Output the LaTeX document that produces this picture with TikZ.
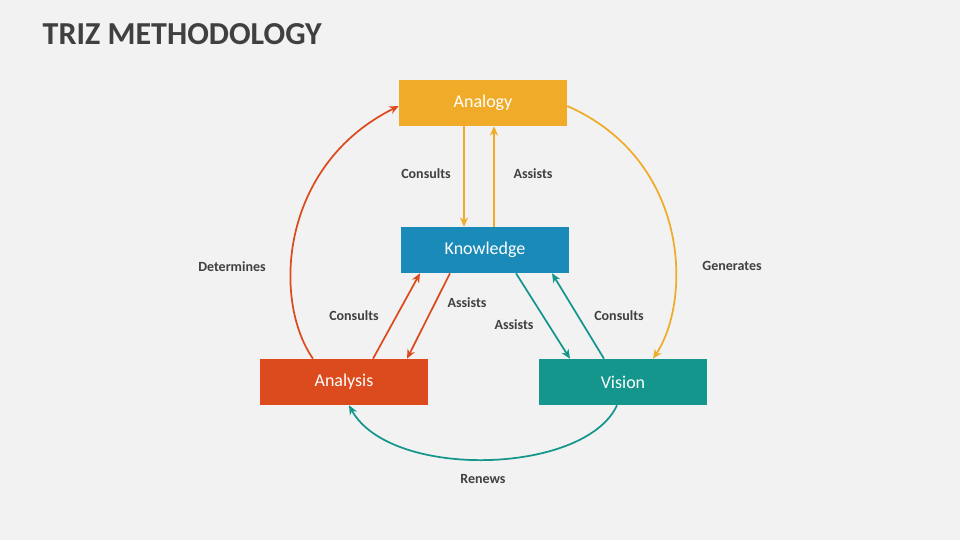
\documentclass[tikz,border=0pt]{standalone}
\usepackage{fontspec}
\setmainfont{Carlito}
\usetikzlibrary{arrows.meta}
\definecolor{bg}{HTML}{F2F2F2}
\definecolor{cana}{HTML}{F0AC28}
\definecolor{ckno}{HTML}{1A8AB8}
\definecolor{cans}{HTML}{DC4B1E}
\definecolor{cvis}{HTML}{14968C}
\definecolor{txt}{HTML}{404040}
\begin{document}
\begin{tikzpicture}[x=0.75pt,y=-0.75pt,
  box/.style={minimum width=126pt,minimum height=34.5pt,inner sep=0pt,text=white,font=\fontsize{13.5}{15}\selectfont},
  lbl/.style={text=txt,font=\bfseries\fontsize{10.5}{12}\selectfont},
  con/.style={line width=1.3pt,-{Stealth[length=7pt,width=6pt]}}]
\fill[bg] (0,0) rectangle (960,540);
\useasboundingbox (0,0) rectangle (960,540);
\node[anchor=west,text=txt,font=\bfseries\fontsize{24}{28}\selectfont] (title) at (38,34) {TRIZ METHODOLOGY};
\node[box,fill=cana] (ana) at (483,103) {Analogy};
\node[box,fill=ckno] (kno) at (485,250) {Knowledge};
\node[box,fill=cans] (ans) at (344,382) {Analysis};
\node[box,fill=cvis] (vis) at (623,382) {Vision};
\draw[con,cana] (ana.south -| 464,0) -- (kno.north -| 464,0);
\draw[con,cana] (kno.north -| 494,0) -- (ana.south -| 494,0);
\draw[con,cans] (ans.north -| 373,0) -- (kno.south -| 420,0);
\draw[con,cans] (kno.south -| 450,0) -- (ans.north -| 407,0);
\draw[con,cvis] (kno.south -| 516,0) -- (vis.north -| 570,0);
\draw[con,cvis] (vis.north -| 604,0) -- (kno.south -| 552,0);
\draw[con,cans] (ans.north -| 313,0) .. controls (272,300) and (280,165) .. (ana.west |- 0,106);
\draw[con,cana] (ana.east |- 0,106) .. controls (690,160) and (692,300) .. (vis.north -| 653,0);
\draw[con,cvis] (vis.south -| 617,0) .. controls (585,475) and (390,480) .. (ans.south -| 349,0);
\node[lbl] (l1) at (426,174) {Consults};
\node[lbl] (l2) at (533,174) {Assists};
\node[lbl] (l3) at (232,267) {Determines};
\node[lbl] (l4) at (732,266) {Generates};
\node[lbl] (l5) at (354,316) {Consults};
\node[lbl] (l6) at (467,303) {Assists};
\node[lbl] (l7) at (514,325) {Assists};
\node[lbl] (l8) at (619,316) {Consults};
\node[lbl] (l9) at (483,479) {Renews};
\end{tikzpicture}
\end{document}
